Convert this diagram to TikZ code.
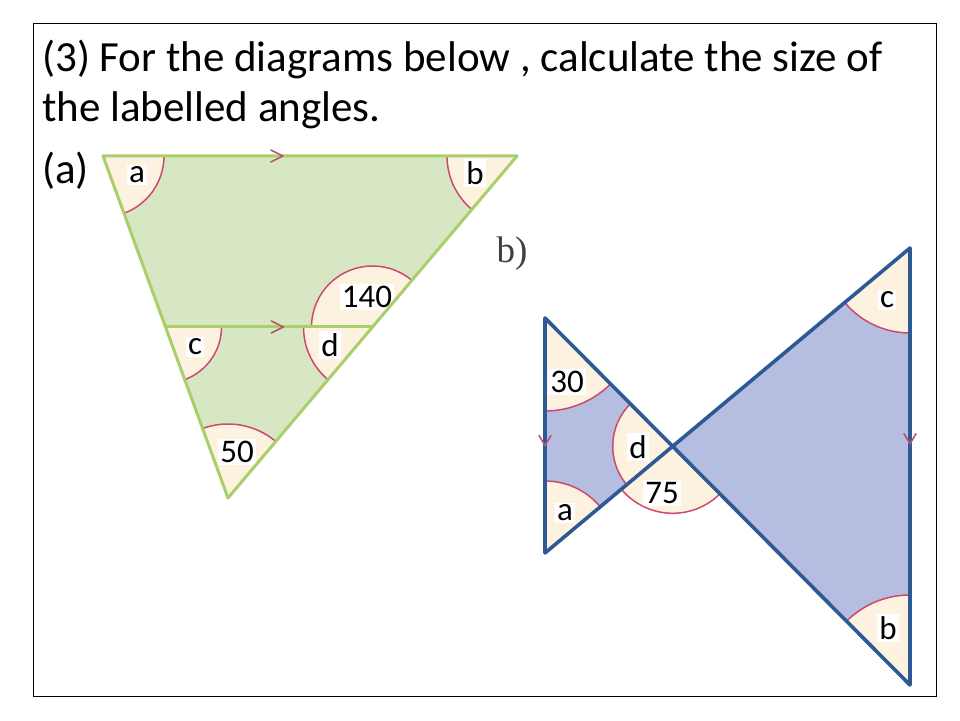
\documentclass[tikz,border=0pt]{standalone}
\usepackage{fontspec}
\setmainfont{Carlito}
\newfontfamily\bookfont{Liberation Serif}
\usetikzlibrary{positioning, calc, angles}

\definecolor{leafline}{HTML}{A9CF6B}
\definecolor{leaffill}{HTML}{D8E7C3}
\definecolor{inkline}{HTML}{2D5A95}
\definecolor{inkfill}{HTML}{B5BEE0}
\definecolor{arcred}{HTML}{CC4A6B}
\definecolor{cream}{HTML}{FDF2E0}
\definecolor{markred}{HTML}{B5566A}

\begin{document}
\begin{tikzpicture}[x=1pt, y=1pt,
		title/.style={anchor=base west, inner sep=0pt, font=\fontsize{43}{50}\selectfont},
		lbl/.style={fill=white, inner sep=2pt, font=\fontsize{33}{33}\selectfont},
		ang/.style={draw=arcred, fill=cream, line width=1.5pt},
		parmark/.style={draw=markred, line width=1.6pt, line cap=round, line join=round},
		greenside/.style={draw=leafline, line width=3pt, line join=round},
		blueside/.style={draw=inkline, line width=3.6pt, line join=round} ]
	\useasboundingbox (0,0) rectangle (960,720);
	\draw[line width=1pt] (33,24) rectangle (936,696);
	
	\node[title] (title1) at (42,648) {(3) For the diagrams below , calculate the size of};
	\node[title] (title2) at (42,598) {the labelled angles.};
	\node[title] (parta)  at (42,536) {(a)};
	
	%(a) triangulo com paralela
	\coordinate (A1) at (103,564);
	\coordinate (A2) at (517,564);
	\coordinate (A3) at (228,222);
	\coordinate (P) at ($(A1)!0.5!(A3)$);
	\coordinate (Q) at ($(A2)!0.5!(A3)$);
	
	\fill[leaffill] (A1) -- (A2) -- (A3) -- cycle;
	\pic[ang, angle radius=61pt] {angle=A3--A1--A2};
	\pic[ang, angle radius=70pt] {angle=A1--A2--A3};
	\pic[ang, angle radius=56pt] {angle=A3--P--Q};
	\pic[ang, angle radius=61pt] {angle=A2--Q--P};
	\pic[ang, angle radius=69pt] {angle=P--Q--A3};
	\pic[ang, angle radius=74pt] {angle=A2--A3--A1};
	
	\node[lbl] (tA)   at (137,545) {a};
	\node[lbl] (tB)   at (475,547) {b};
	\node[lbl] (t140) at (367,423) {140};
	\node[lbl] (tC)   at (195,373) {c};
	\node[lbl] (tD)   at (330,375) {d};
	\node[lbl] (t50)  at (237,268) {50};
	
	\draw[greenside] (A1) -- (A2) -- (A3) -- cycle;
	\draw[greenside] (P) -- (Q);
	\draw[parmark] ($(A1)!0.42!(A2)$) ++(-6,6) -- ++(12,-6) -- ++(-12,-6);
	\draw[parmark] ($(P)!0.54!(Q)$) ++(-6,6) -- ++(12,-6) -- ++(-12,-6);
	
	%(b) dois triangulos opostos pelo vertice
	\node[inner sep=0pt, font=\bookfont\fontsize{37}{37}\selectfont, text=black!75] (bhead) at (512,466) {b)};
	\coordinate (L1) at (545,402);
	\coordinate (L2) at (545,167);
	\coordinate (R1) at (910,472);
	\coordinate (R2) at (910,35);
	\coordinate (X) at (intersection of L1--R2 and L2--R1);
	
	\fill[inkfill] (L1) -- (L2) -- (X) -- cycle;
	\fill[inkfill] (R1) -- (R2) -- (X) -- cycle;
	\pic[ang, angle radius=93pt] {angle=L2--L1--X};
	\pic[ang, angle radius=72pt] {angle=X--L2--L1};
	\pic[ang, angle radius=60pt] {angle=L1--X--L2};
	\pic[ang, angle radius=67pt] {angle=L2--X--R2};
	\pic[ang, angle radius=85pt] {angle=X--R1--R2};
	\pic[ang, angle radius=90pt] {angle=R1--R2--X};
	
	\node[lbl] (b30) at (567,338) {30};
	\node[lbl] (bD)  at (638,273) {d};
	\node[lbl] (b75) at (662,227) {75};
	\node[lbl] (bA)  at (565,207) {a};
	\node[lbl] (bC)  at (887,420) {c};
	\node[lbl] (bB)  at (888,92)  {b};
	
	\draw[blueside] (L1) -- (L2) -- (R1) -- (R2) -- cycle;
	\draw[parmark] ($(L1)!0.5!(L2)$) ++(-6,0) -- ++(6,-10) -- ++(6,10);
	\draw[parmark] ($(R1)!0.425!(R2)$) ++(-6,0) -- ++(6,-10) -- ++(6,10);
\end{tikzpicture}
\end{document}
